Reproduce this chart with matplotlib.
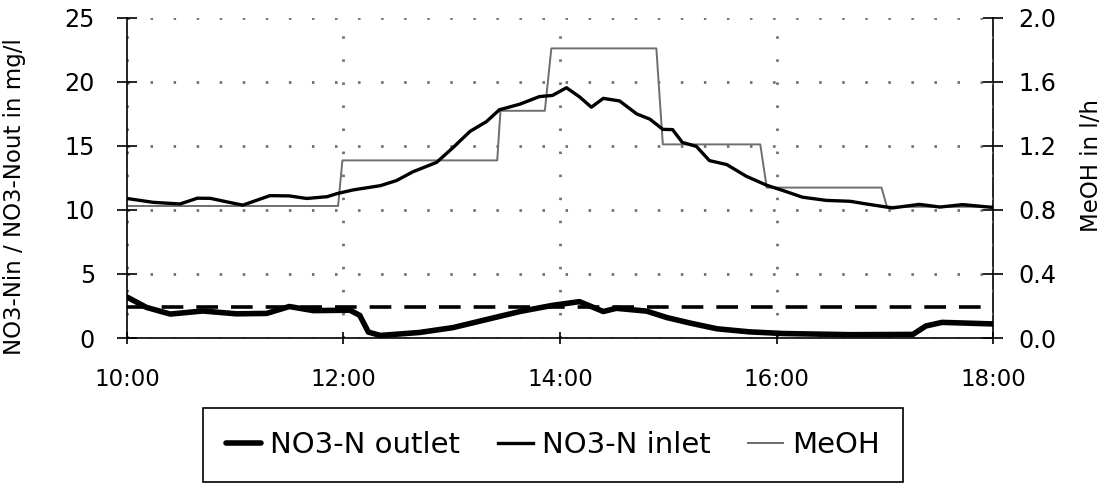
import matplotlib
matplotlib.use('Agg')
import matplotlib.pyplot as plt
from matplotlib.ticker import FixedLocator, FuncFormatter

# ---- data (time in hours) ----
t_inlet = [10.0, 10.24, 10.49, 10.65, 10.77, 10.92, 11.07, 11.32, 11.5, 11.66, 11.85, 11.94,
           12.09, 12.34, 12.49, 12.64, 12.86, 13.01, 13.17, 13.32, 13.44, 13.63, 13.81, 13.93,
           14.06, 14.18, 14.29, 14.40, 14.55, 14.71, 14.83, 14.95, 15.04, 15.13, 15.26, 15.38,
           15.54, 15.72, 15.91, 16.06, 16.24, 16.46, 16.68, 16.83, 17.07, 17.32, 17.51, 17.72, 18.0]
inlet = [10.9, 10.6, 10.47, 10.92, 10.91, 10.64, 10.38, 11.12, 11.1, 10.9, 11.04, 11.28,
         11.57, 11.9, 12.3, 12.98, 13.72, 14.86, 16.15, 16.9, 17.83, 18.27, 18.86, 18.95,
         19.55, 18.84, 18.03, 18.72, 18.52, 17.5, 17.1, 16.3, 16.28, 15.28, 14.97, 13.86,
         13.55, 12.64, 11.93, 11.52, 11.0, 10.75, 10.68, 10.47, 10.16, 10.44, 10.23, 10.42, 10.2]

t_outlet = [10.0, 10.18, 10.4, 10.7, 11.01, 11.29, 11.5, 11.72, 12.06, 12.15, 12.23, 12.34,
            12.7, 13.01, 13.32, 13.63, 13.93, 14.18, 14.40, 14.52, 14.8, 14.99, 15.2, 15.45,
            15.75, 16.06, 16.68, 17.26, 17.38, 17.53, 18.0]
outlet = [3.2, 2.39, 1.87, 2.11, 1.89, 1.92, 2.46, 2.14, 2.17, 1.77, 0.46, 0.2,
          0.43, 0.81, 1.44, 2.07, 2.55, 2.84, 2.07, 2.32, 2.1, 1.59, 1.17, 0.72,
          0.48, 0.35, 0.26, 0.28, 0.94, 1.22, 1.1]

t_meoh = [10.0, 11.95, 11.99, 13.42, 13.45, 13.86, 13.92, 14.89, 14.95, 15.85, 15.91,
          16.97, 17.02, 18.0]
meoh = [0.825, 0.825, 1.11, 1.11, 1.42, 1.42, 1.81, 1.81, 1.21, 1.21, 0.94,
        0.94, 0.82, 0.82]

limit_t = [10.0, 18.0]
limit = [2.4, 2.4]

x_ticks = [10, 12, 14, 16, 18]
y_left_ticks = [0, 5, 10, 15, 20, 25]
y_right_ticks = [0.0, 0.4, 0.8, 1.2, 1.6, 2.0]

FONT = 'DejaVu Sans'
plt.rcParams['font.family'] = [FONT]

fig = plt.figure(figsize=(11.11, 4.90), dpi=100)
ax = fig.add_axes([0.1143, 0.3102, 0.7795, 0.6531])
ax2 = ax.twinx()

l_out, = ax.plot(t_outlet, outlet, color='black', lw=4.0, solid_joinstyle='round',
                 solid_capstyle='round', label='NO3-N outlet')
l_in, = ax.plot(t_inlet, inlet, color='black', lw=2.4, solid_joinstyle='round',
                label='NO3-N inlet')
ax.plot(limit_t, limit, color='black', lw=2.6, dashes=(6.0, 3.6))
l_me, = ax2.plot(t_meoh, meoh, color='#6e6e6e', lw=1.4, label='MeOH')

ax.set_zorder(2)
ax2.set_zorder(1)
ax.patch.set_visible(False)

ax.set_xlim(10, 18)
ax.set_ylim(0, 25)
ax2.set_ylim(0, 2.0)

ax.xaxis.set_major_locator(FixedLocator(x_ticks))
ax.xaxis.set_major_formatter(FuncFormatter(lambda v, p: f'{int(round(v))}:00'))
ax.yaxis.set_major_locator(FixedLocator(y_left_ticks))
ax2.yaxis.set_major_locator(FixedLocator(y_right_ticks))
ax2.yaxis.set_major_formatter(FuncFormatter(lambda v, p: f'{v:.1f}'))

grid_style = dict(linestyle=(0, (0.9, 7.4)), color='#707070', linewidth=2.0)
ax.yaxis.grid(True, **grid_style)
ax.xaxis.grid(True, **grid_style)

for s in ['top', 'right']:
    ax.spines[s].set_visible(False)
for s in ['top', 'left', 'bottom']:
    ax2.spines[s].set_visible(False)
for s in ax.spines.values():
    s.set_linewidth(1.2)
ax2.spines['right'].set_linewidth(1.2)

ax.tick_params(axis='y', direction='inout', length=14, width=1.2, labelsize=17.2, pad=16)
ax.tick_params(axis='x', direction='inout', length=9, width=1.2, labelsize=16.5, pad=17)
ax2.tick_params(axis='y', direction='inout', length=14, width=1.2, labelsize=17.2, pad=11)

fig.text(15 / 1111, 1 - 197 / 490, 'NO3-Nin / NO3-Nout in mg/l', rotation=90,
         ha='center', va='center', fontsize=16.5)
fig.text(1091 / 1111, 1 - 165 / 490, 'MeOH in l/h', rotation=90,
         ha='center', va='center', fontsize=16.5)

leg = fig.legend([l_out, l_in, l_me], ['NO3-N outlet', 'NO3-N inlet', 'MeOH'],
                 loc='center', bbox_to_anchor=(553 / 1111, 1 - 445 / 490), ncol=3,
                 frameon=True, fancybox=False, framealpha=1, edgecolor='black',
                 prop={'family': FONT, 'size': 21}, handlelength=1.2,
                 handletextpad=0.3, columnspacing=1.3, borderpad=0.8)
leg.get_frame().set_linewidth(1.2)

fig.savefig('out.png', dpi=100)
